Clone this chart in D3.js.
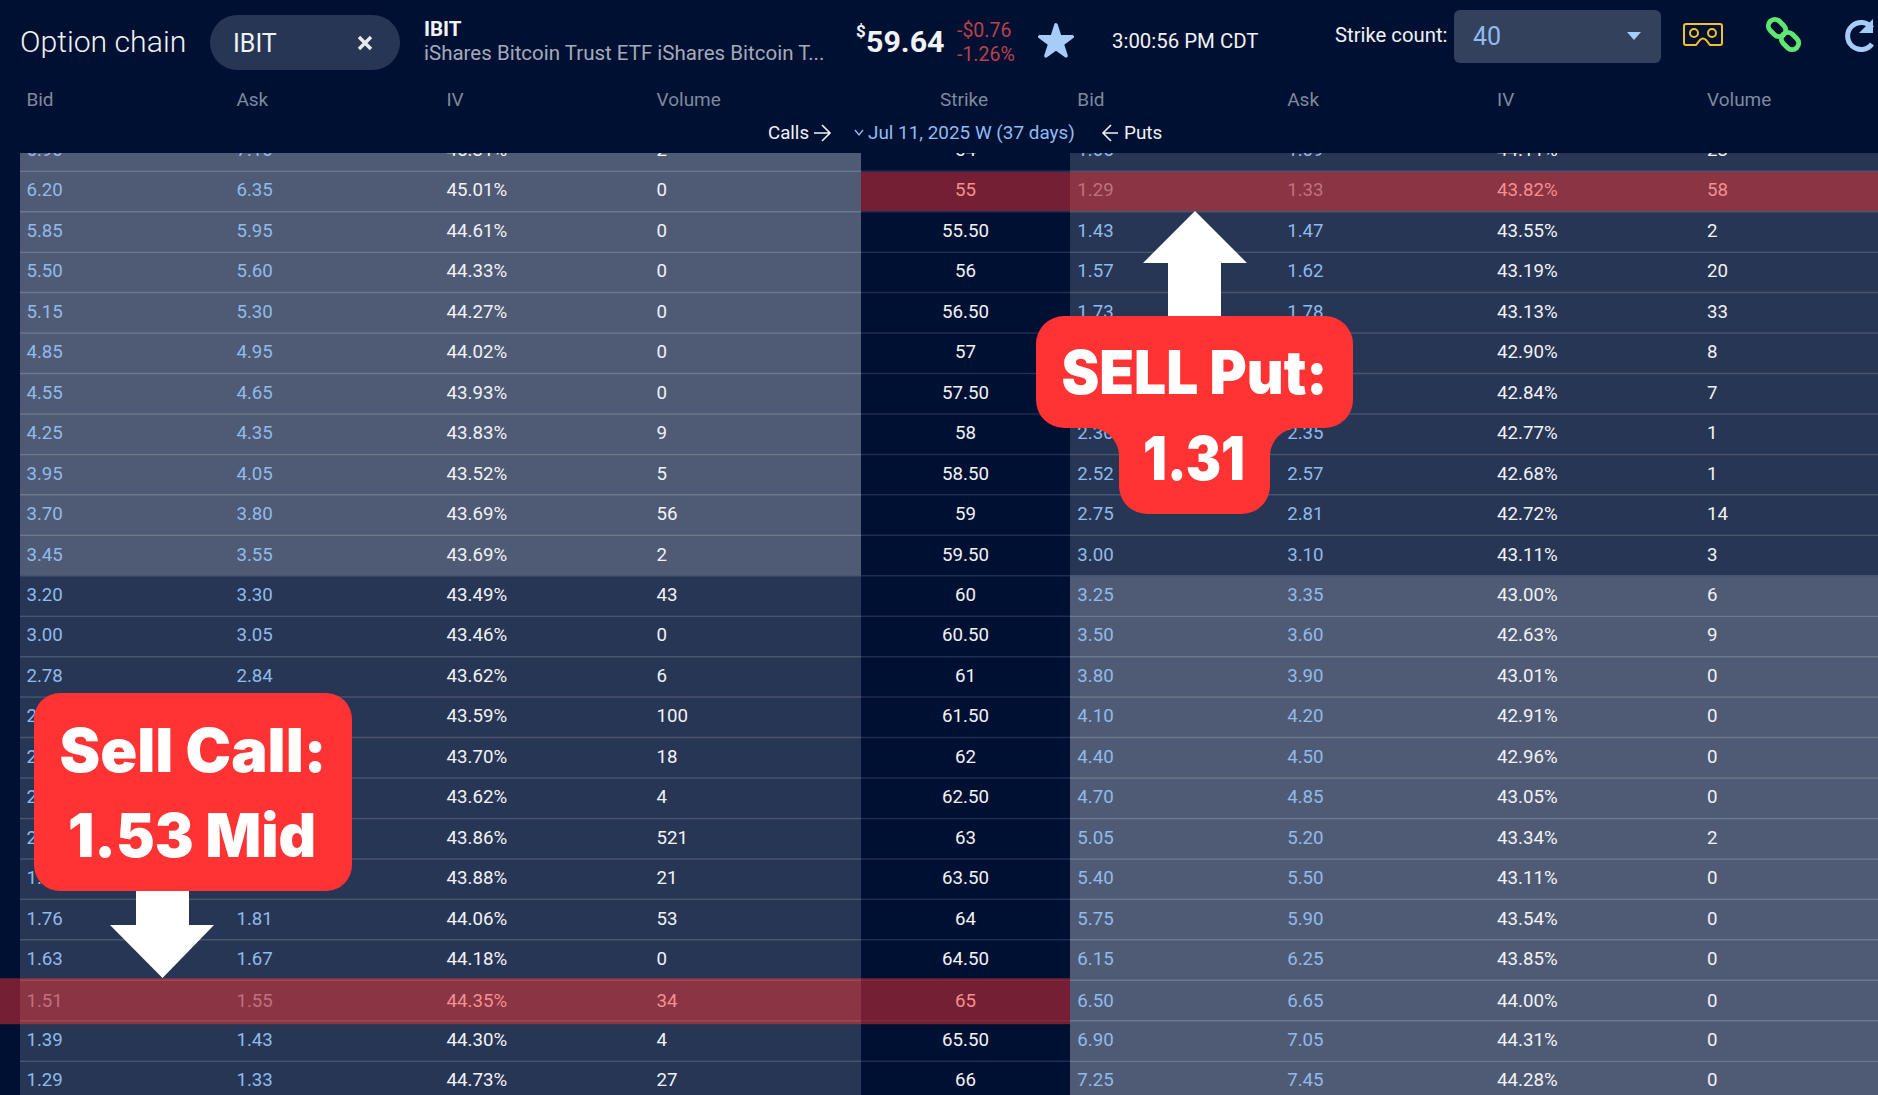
<!DOCTYPE html>
<html lang="en">
<head>
<meta charset="UTF-8">
<title>Option chain</title>
<script src="https://d3js.org/d3.v7.min.js"></script>
<style>
  html, body { margin: 0; padding: 0; background: #001033; overflow: hidden; }
  svg { display: block; font-family: Roboto, sans-serif; }
</style>
</head>
<body>
<script>

var strikes = [54, 55, 55.5, 56, 56.5, 57, 57.5, 58, 58.5, 59, 59.5, 60, 60.5, 61, 61.5, 62, 62.5, 63, 63.5, 64, 64.5, 65, 65.5, 66];

var callBid = [6.90, 6.20, 5.85, 5.50, 5.15, 4.85, 4.55, 4.25, 3.95, 3.70, 3.45, 3.20, 3.00, 2.78, 2.58, 2.38, 2.20, 2.03, 1.89, 1.76, 1.63, 1.51, 1.39, 1.29];
var callAsk = [7.10, 6.35, 5.95, 5.60, 5.30, 4.95, 4.65, 4.35, 4.05, 3.80, 3.55, 3.30, 3.05, 2.84, 2.63, 2.43, 2.25, 2.08, 1.93, 1.81, 1.67, 1.55, 1.43, 1.33];
var callIV = [45.31, 45.01, 44.61, 44.33, 44.27, 44.02, 43.93, 43.83, 43.52, 43.69, 43.69, 43.49, 43.46, 43.62, 43.59, 43.70, 43.62, 43.86, 43.88, 44.06, 44.18, 44.35, 44.30, 44.73];
var callVol = [2, 0, 0, 0, 0, 0, 0, 9, 5, 56, 2, 43, 0, 6, 100, 18, 4, 521, 21, 53, 0, 34, 4, 27];

var putBid = [1.05, 1.29, 1.43, 1.57, 1.73, 1.91, 2.10, 2.30, 2.52, 2.75, 3.00, 3.25, 3.50, 3.80, 4.10, 4.40, 4.70, 5.05, 5.40, 5.75, 6.15, 6.50, 6.90, 7.25];
var putAsk = [1.09, 1.33, 1.47, 1.62, 1.78, 1.96, 2.14, 2.35, 2.57, 2.81, 3.10, 3.35, 3.60, 3.90, 4.20, 4.50, 4.85, 5.20, 5.50, 5.90, 6.25, 6.65, 7.05, 7.45];
var putIV = [44.11, 43.82, 43.55, 43.19, 43.13, 42.90, 42.84, 42.77, 42.68, 42.72, 43.11, 43.00, 42.63, 43.01, 42.91, 42.96, 43.05, 43.34, 43.11, 43.54, 43.85, 44.00, 44.31, 44.28];
var putVol = [23, 58, 2, 20, 33, 8, 7, 1, 1, 14, 3, 6, 9, 0, 0, 0, 0, 2, 0, 0, 0, 0, 0, 0];

var columnNames = ["Bid", "Ask", "IV", "Volume"];
var atmStrike = 60;
var soldPut = 55;
var soldCall = 65;

var width = 1878, height = 1095;
var bg = "#001033", darkRow = "#283655", lightRow = "#4f5b75";
var redRow = "#8b3443", redBg = "#741f33";
var blue = "#8fbaea", white = "#f0f2f5", grey = "#7e899d";

var fmt2 = d3.format(".2f");
var fmtStrike = function (d) { return Number.isInteger(d) ? String(d) : fmt2(d); };
var fmtIV = function (d) { return fmt2(d) + "%"; };

var svg = d3.select("body").append("svg")
    .attr("width", width)
    .attr("height", height);

var y = d3.scaleBand()
    .domain(strikes)
    .range([130.3, 130.3 + 40.45 * strikes.length]);

var callX = d3.scalePoint().domain(columnNames).range([26.4, 656.5]);
var putX = d3.scalePoint().domain(columnNames).range([1077.3, 1707]);

svg.append("clipPath").attr("id", "tableClip")
    .append("rect").attr("x", 0).attr("y", 153).attr("width", width).attr("height", height - 153);

var table = svg.append("g").attr("clip-path", "url(#tableClip)");

// row backgrounds, the taller red row goes last so it stays on top
var callFill = function (d) { return d === soldCall ? redRow : (d < atmStrike ? lightRow : darkRow); };
var putFill = function (d) { return d === soldPut ? redRow : (d >= atmStrike ? lightRow : darkRow); };
var strikeFill = function (d) { return (d === soldPut || d === soldCall) ? redBg : bg; };
var rowTop = function (d) { return d === soldCall ? y(d) - 1.5 : y(d); };
var rowH = function (d) { return d === soldCall ? y.bandwidth() + 5.5 : y.bandwidth(); };
var drawOrder = strikes.filter(function (d) { return d !== soldCall; }).concat([soldCall]);

function band(fill, x0, x1) {
    table.append("g").selectAll("rect")
        .data(drawOrder)
        .enter()
            .append("rect")
            .attr("x", x0)
            .attr("width", x1 - x0)
            .attr("y", rowTop)
            .attr("height", rowH)
            .attr("fill", fill);
}
band(callFill, 20, 861);
band(strikeFill, 861, 1070);
band(putFill, 1070, width);

table.append("rect")
    .attr("x", 0).attr("width", 20)
    .attr("y", rowTop(soldCall)).attr("height", rowH(soldCall))
    .attr("fill", redBg);

// row separators, tinted where they cross the red row
var isRedEdge = function (d) { return d === soldCall || d === soldCall + 0.5; };

function rule(x0, x1, color) {
    table.append("g").selectAll("line")
        .data(strikes)
        .enter()
            .append("line")
            .attr("x1", x0).attr("x2", x1)
            .attr("y1", function (d) { return y(d) + 0.5; })
            .attr("y2", function (d) { return y(d) + 0.5; })
            .attr("stroke", color)
            .attr("stroke-width", 1.5);
}
rule(861, 1070, function (d) { return isRedEdge(d) ? "#7d2b3e" : "#1f2d4e"; });
rule(20, 861, function (d) {
    if (isRedEdge(d)) return "#99485a";
    return d <= atmStrike - 0.5 ? "#6e788d" : "#49556f";
});
rule(1070, width, function (d) { return d > atmStrike ? "#6e788d" : "#49556f"; });

// text baseline of a row; the taller red row sits a little lower
var rowText = function (d) { return y(d) + y.bandwidth() / 2 + 5.5 + (d === soldCall ? 1.5 : 0); };

// one column of cell text
function column(values, x, fmt, normal, red, redStrike) {
    table.append("g").selectAll("text")
        .data(values)
        .enter()
            .append("text")
            .attr("x", x)
            .attr("y", function (d, i) { return rowText(strikes[i]); })
            .attr("font-size", 18.7)
            .attr("fill", function (d, i) { return strikes[i] === redStrike ? red : normal; })
            .text(fmt);
}

var dimRed = "#c0717f", brightRed = "#f48f90";
column(callBid, callX("Bid"), fmt2, blue, dimRed, soldCall);
column(callAsk, callX("Ask"), fmt2, blue, dimRed, soldCall);
column(callIV, callX("IV"), fmtIV, white, brightRed, soldCall);
column(callVol, callX("Volume"), String, white, brightRed, soldCall);
column(putBid, putX("Bid"), fmt2, blue, dimRed, soldPut);
column(putAsk, putX("Ask"), fmt2, blue, dimRed, soldPut);
column(putIV, putX("IV"), fmtIV, white, brightRed, soldPut);
column(putVol, putX("Volume"), String, white, brightRed, soldPut);

table.append("g").selectAll("text")
    .data(strikes)
    .enter()
        .append("text")
        .attr("x", 965.5)
        .attr("y", rowText)
        .attr("text-anchor", "middle")
        .attr("font-size", 18.7)
        .attr("fill", function (d) { return (d === soldPut || d === soldCall) ? brightRed : white; })
        .text(fmtStrike);

// column headers
function label(x, yy, txt, size, color, weight, anchor) {
    return svg.append("text")
        .attr("x", x).attr("y", yy)
        .attr("font-size", size)
        .attr("fill", color)
        .attr("font-weight", weight || 400)
        .attr("text-anchor", anchor || "start")
        .text(txt);
}
columnNames.forEach(function (c) {
    label(callX(c), 106, c, 19, grey);
    label(putX(c), 106, c, 19, grey);
});
label(940, 106, "Strike", 19, grey);

label(768, 139, "Calls", 18.7, white);
label(868, 139, "Jul 11, 2025 W (37 days)", 18.9, "#8ebcf0");
label(1124, 139, "Puts", 18.9, white);
svg.append("path").attr("d", "M814,133H829M822,125L830,133L822,141")
    .attr("fill", "none").attr("stroke", white).attr("stroke-width", 1.6);
svg.append("path").attr("d", "M1118,133H1103M1111,125L1103,133L1111,141")
    .attr("fill", "none").attr("stroke", white).attr("stroke-width", 1.6);
svg.append("path").attr("d", "M855,130L859,135L863,130")
    .attr("fill", "none").attr("stroke", "#8ebcf0").attr("stroke-width", 1.4);

// top bar
label(20, 52, "Option chain", 30.2, white, 300);
svg.append("rect").attr("x", 210).attr("y", 15).attr("width", 190).attr("height", 55)
    .attr("rx", 27.5).attr("fill", darkRow);
label(233, 52, "IBIT", 25, white);
svg.append("path").attr("d", "M359,37L371,49M371,37L359,49")
    .attr("stroke", "#e8eaee").attr("stroke-width", 3.4).attr("fill", "none");

label(424, 36, "IBIT", 20.5, white, 700);
label(424, 60, "iShares Bitcoin Trust ETF iShares Bitcoin T...", 20.5, "#a3abb9");

label(856, 37, "$", 17, white, 700);
label(866, 52, "59.64", 30.4, white, 700);
label(957, 37, "-$0.76", 19.5, "#b9414d");
label(957, 61, "-1.26%", 19.5, "#b9414d");

svg.append("path")
    .attr("d", d3.symbol().type(d3.symbolStar).size(330)())
    .attr("transform", "translate(1056,42)")
    .attr("fill", "#a6cdf8")
    .attr("stroke", "#a6cdf8")
    .attr("stroke-width", 3.5)
    .attr("stroke-linejoin", "round");

label(1112, 48, "3:00:56 PM CDT", 20.4, white);
label(1335, 42, "Strike count:", 20.3, white);
svg.append("rect").attr("x", 1454).attr("y", 10).attr("width", 207).attr("height", 53)
    .attr("rx", 6).attr("fill", "#33415c");
label(1473, 45, "40", 25, "#8ebcf0");
svg.append("path").attr("d", "M1627,32H1641L1634,40Z").attr("fill", "#a6cdf8");

// goggles icon
var yellow = "#f0c22e";
svg.append("path")
    .attr("d", "M1686,24H1720Q1722,24 1722,26V43Q1722,45 1720,45H1710L1706,40Q1703,37 1700,40L1696,45H1686Q1684,45 1684,43V26Q1684,24 1686,24Z")
    .attr("fill", "none").attr("stroke", yellow).attr("stroke-width", 2);
svg.append("circle").attr("cx", 1694).attr("cy", 33).attr("r", 4).attr("fill", "none").attr("stroke", yellow).attr("stroke-width", 2);
svg.append("circle").attr("cx", 1712).attr("cy", 33).attr("r", 4).attr("fill", "none").attr("stroke", yellow).attr("stroke-width", 2);

// chain icon
[[1777, 28], [1790, 41]].forEach(function (c) {
    svg.append("rect")
        .attr("x", -9.5).attr("y", -6.5).attr("width", 19).attr("height", 13).attr("rx", 6.5)
        .attr("transform", "translate(" + c[0] + "," + c[1] + ") rotate(45)")
        .attr("fill", "none").attr("stroke", "#5fe870").attr("stroke-width", 5);
});

// reload icon
svg.append("path")
    .attr("d", "M1872,28A13.5,13.5 0 1 0 1872,44")
    .attr("fill", "none").attr("stroke", "#a6cdf8").attr("stroke-width", 5);
svg.append("path").attr("d", "M1873,19V33H1859Z").attr("fill", "#a6cdf8");

// callouts
var red = "#ff3333";
var calloutFont = "Inter, sans-serif";

function callText(x, yy, txt, fitWidth) {
    svg.append("text")
        .attr("x", x).attr("y", yy)
        .attr("text-anchor", "middle")
        .attr("font-family", calloutFont)
        .attr("font-weight", 900)
        .attr("font-size", 60)
        .attr("textLength", fitWidth)
        .attr("lengthAdjust", "spacingAndGlyphs")
        .attr("fill", "#fff")
        .text(txt);
}

svg.append("path").attr("d", "M136,885V925H110L162.5,978L214,925H189V885Z").attr("fill", "#fff");
svg.append("rect").attr("x", 34).attr("y", 693).attr("width", 318).attr("height", 198)
    .attr("rx", 26).attr("fill", red);
callText(193, 772, "Sell Call:", 267);
callText(192, 857, "1.53 Mid", 248);

svg.append("path").attr("d", "M1168,320V263H1143L1195,211L1247,263H1221V320Z").attr("fill", "#fff");
svg.append("path")
    .attr("d", "M1064,316H1325A28,28 0 0 1 1353,344V400A28,28 0 0 1 1325,428H1298A28,28 0 0 0 1270,456V486A28,28 0 0 1 1242,514H1147A28,28 0 0 1 1119,486V456A28,28 0 0 0 1091,428H1064A28,28 0 0 1 1036,400V344A28,28 0 0 1 1064,316Z")
    .attr("fill", red);
callText(1194.5, 394, "SELL Put:", 266);
callText(1194, 480, "1.31", 102);

</script>
</body>
</html>
